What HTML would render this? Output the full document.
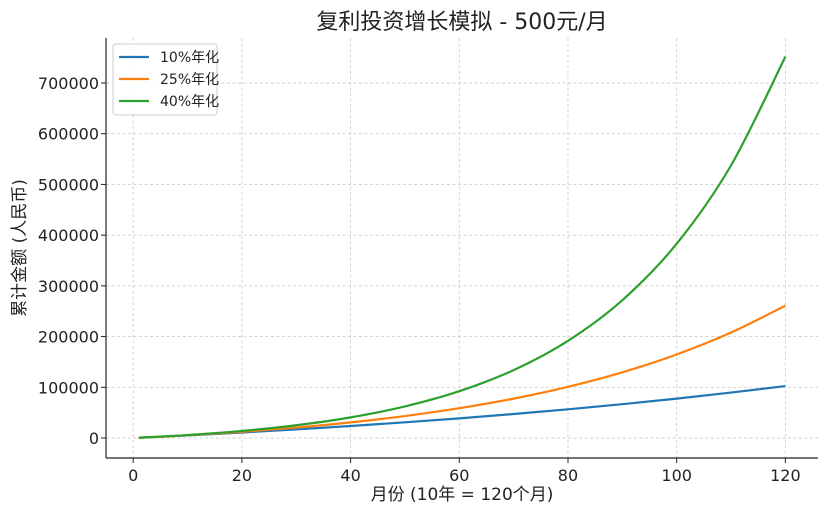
<!DOCTYPE html>
<html><head><meta charset="utf-8">
<style>
html,body{margin:0;padding:0;background:#fff;}
svg{display:block;font-family:"DejaVu Sans","Noto Sans CJK SC",sans-serif;}
</style></head>
<body>
<svg id="chart" width="829" height="514" viewBox="0 0 829 514" xmlns="http://www.w3.org/2000/svg">
<text x="462" y="29" text-anchor="middle" font-size="22" fill="#222">复利投资增长模拟 - 500元/月</text>
<g id="grid"></g>
<g id="series"></g>
<g id="axes"></g>
<text x="462" y="500" text-anchor="middle" font-size="17" fill="#222">月份 (10年 = 120个月)</text>
<text transform="translate(25,248) rotate(-90)" text-anchor="middle" font-size="17" fill="#222">累计金额 (人民币)</text>
<g id="legend"></g>
</svg>
<script>
const months = [1,10,20,30,40,50,60,70,80,90,100,110,120];
const series10 = [500,5196,10842,16980,23646,30888,38718,47268,56562,66660,77628,89550,102420];
const series25 = [500,5496,12252,20551,30756,43296,58709,77650,100927,129540,164705,207922,261048];
const series40 = [500,5820,13898,25110,40673,62274,92258,133875,191640,271815,383100,537570,751950];
const seriesNames = ["10%年化","25%年化","40%年化"];
const xTicks = [0,20,40,60,80,100,120];
const yTicks = [0,100000,200000,300000,400000,500000,600000,700000];

const NS="http://www.w3.org/2000/svg";
const L=106,R=818,T=38,B=458;
const xMin=-5,xMax=126,yMin=-39440,yMax=788740;
const xs=v=>L+(v-xMin)/(xMax-xMin)*(R-L);
const ys=v=>B-(v-yMin)/(yMax-yMin)*(B-T);
function mk(tag,attrs,parent){const e=document.createElementNS(NS,tag);for(const k in attrs)e.setAttribute(k,attrs[k]);parent.appendChild(e);return e;}
const grid=document.getElementById('grid'),axes=document.getElementById('axes'),ser=document.getElementById('series'),leg=document.getElementById('legend');

xTicks.forEach(t=>{
  const g=mk('line',{x1:xs(t),x2:xs(t),y1:T,y2:B,stroke:'#cfcfcf','stroke-dasharray':'3,2.5','stroke-width':0.9},grid);
  
  
  const tk=mk('line',{x1:xs(t),x2:xs(t),y1:B,y2:B+5,stroke:'#222'},axes);
  
  
  const lb=mk('text',{x:xs(t),y:B+23,'text-anchor':'middle','font-size':16,fill:'#222'},axes);
  lb.textContent=t;
  
  
});
yTicks.forEach(t=>{
  const g=mk('line',{x1:L,x2:R,y1:ys(t),y2:ys(t),stroke:'#cfcfcf','stroke-dasharray':'3,2.5','stroke-width':0.9},grid);
  
  
  const tk=mk('line',{x1:L-5,x2:L,y1:ys(t),y2:ys(t),stroke:'#222'},axes);
  
  
  const lb=mk('text',{x:L-7,y:ys(t)+6,'text-anchor':'end','font-size':16,fill:'#222'},axes);
  lb.textContent=t;
  
  
});
const sp1=mk('line',{x1:L,x2:L,y1:T,y2:B,stroke:'#222','stroke-width':1.2},axes);


const sp2=mk('line',{x1:L,x2:R,y1:B,y2:B,stroke:'#222','stroke-width':1.2},axes);



function pathFor(vals){
  const p=months.map((m,i)=>[xs(m),ys(vals[i])]);
  let d=`M${p[0][0]},${p[0][1]}`;
  for(let i=0;i<p.length-1;i++){
    const p0=p[i-1]||p[i],p1=p[i],p2=p[i+1],p3=p[i+2]||p2;
    const c1=[p1[0]+(p2[0]-p0[0])/6,p1[1]+(p2[1]-p0[1])/6];
    const c2=[p2[0]-(p3[0]-p1[0])/6,p2[1]-(p3[1]-p1[1])/6];
    d+=` C${c1[0]},${c1[1]} ${c2[0]},${c2[1]} ${p2[0]},${p2[1]}`;
  }
  return d;
}
const colors=['#1f77b4','#ff7f0e','#2ca02c'];
[series10,series25,series40].forEach((s,i)=>{
  const p=mk('path',{d:pathFor(s),fill:'none',stroke:colors[i],'stroke-width':2.2},ser);
  
  
});
const box=mk('rect',{x:113,y:44,width:104,height:71,rx:3,fill:'#fff','fill-opacity':0.85,stroke:'#ccc'},leg);


seriesNames.forEach((n,i)=>{
  const y=57+i*22;
  const ln=mk('line',{x1:119,x2:149,y1:y,y2:y,stroke:colors[i],'stroke-width':2.2},leg);
  
  
  const t=mk('text',{x:160,y:y+5,'font-size':14,fill:'#222'},leg);
  t.textContent=n;
  
  
});
</script>
</body></html>
